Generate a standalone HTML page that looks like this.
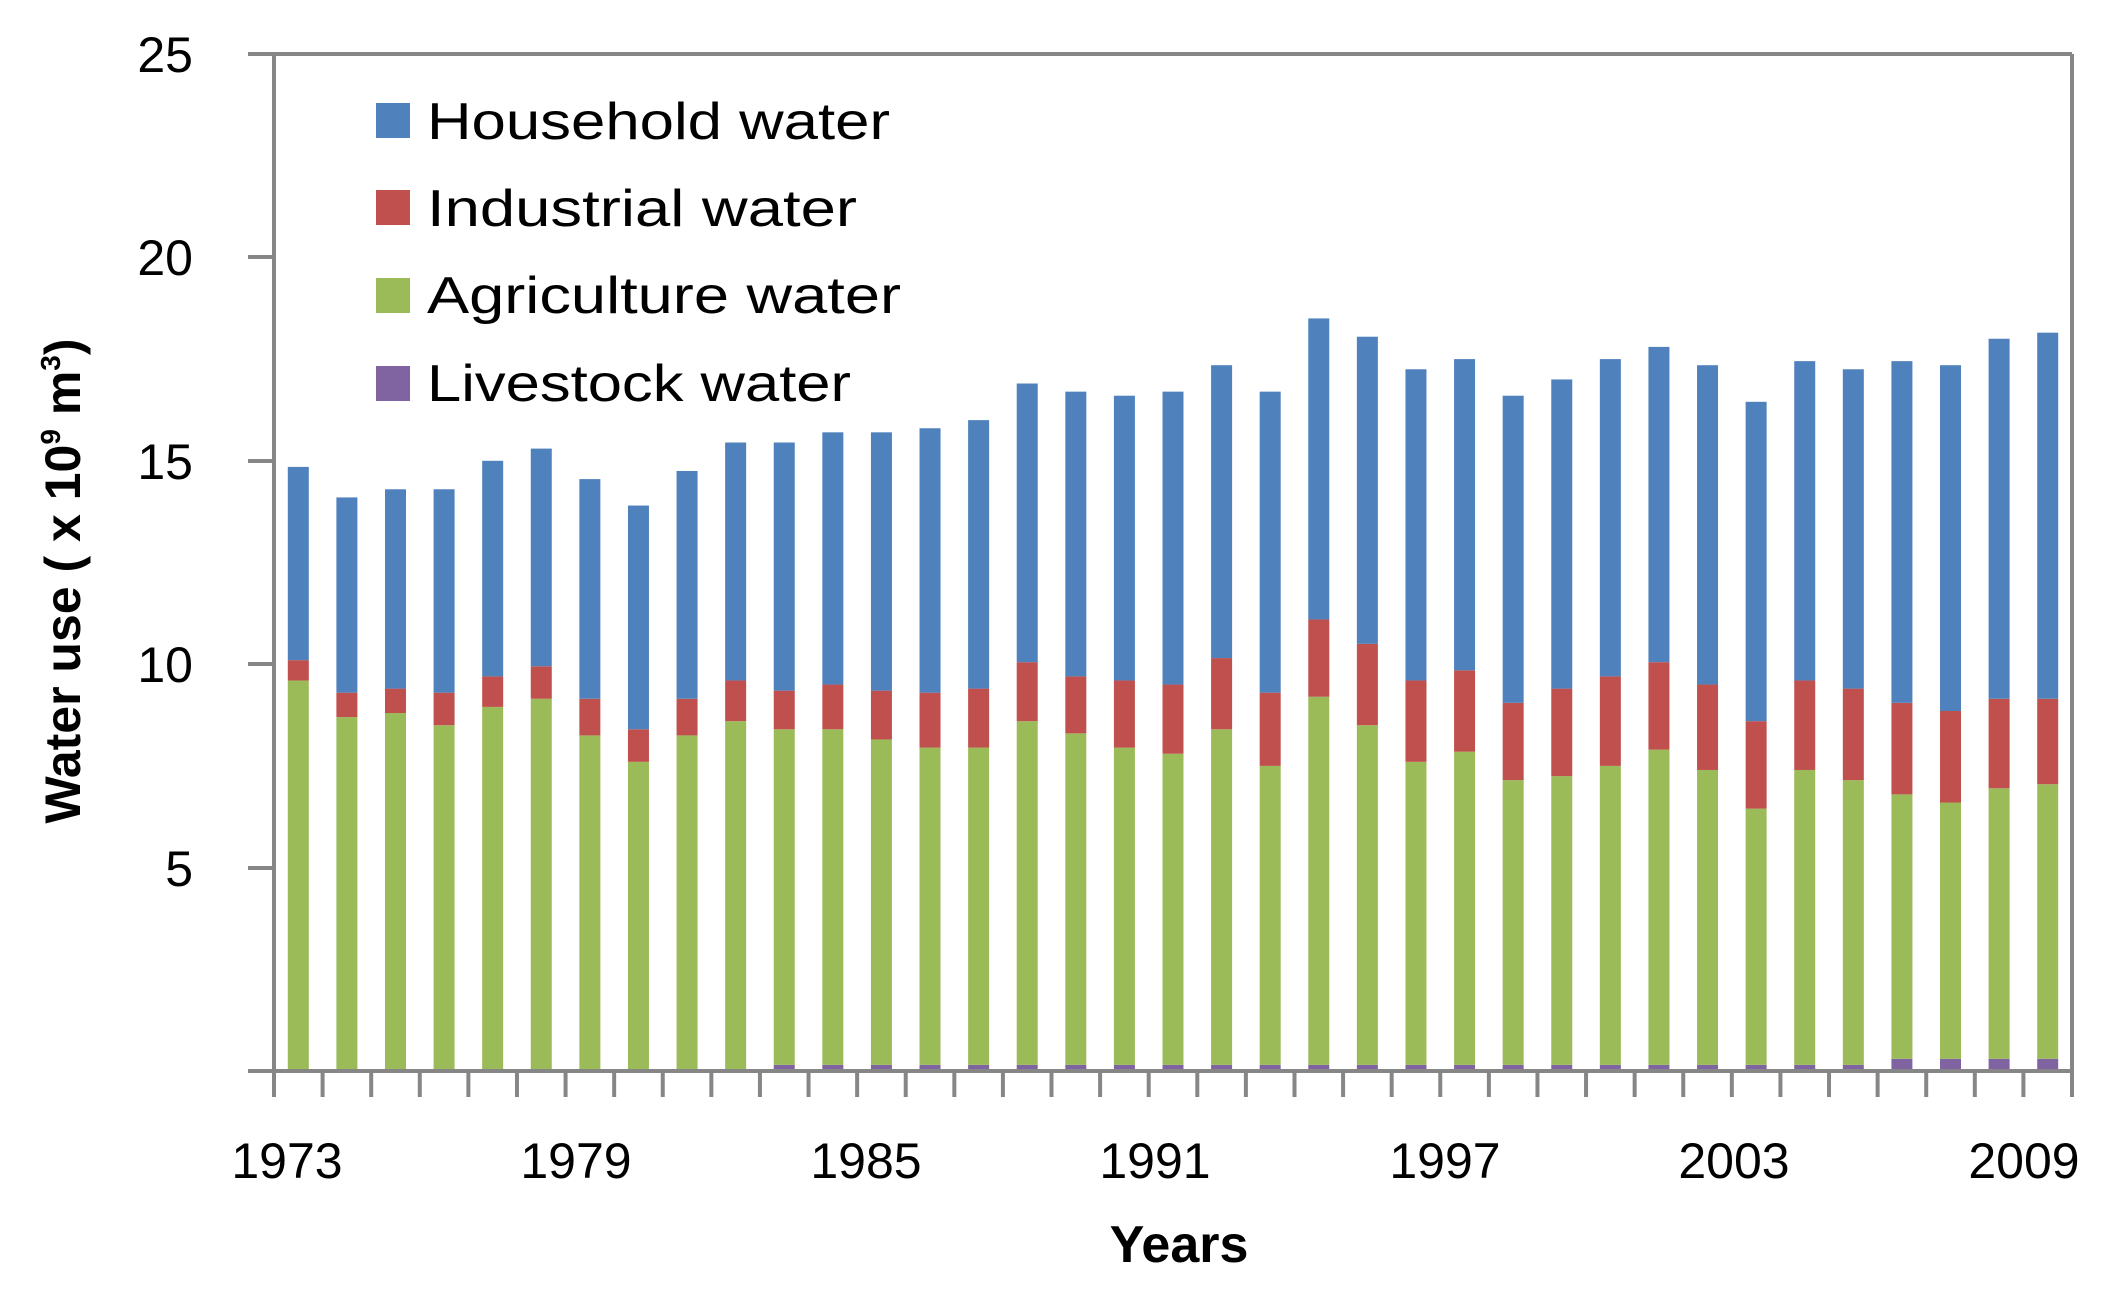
<!DOCTYPE html>
<html><head><meta charset="utf-8"><style>body{margin:0;background:#fff}svg{display:block}</style></head>
<body>
<svg id="s" width="2120" height="1289" viewBox="0 0 2120 1289" xmlns="http://www.w3.org/2000/svg" font-family="'Liberation Sans', sans-serif">
<g id="bars"></g>
<g stroke="#868686" stroke-width="4" fill="none">
<line x1="274" y1="54" x2="2072" y2="54"/>
<line x1="274" y1="54" x2="274" y2="1071"/>
<line x1="2072" y1="54" x2="2072" y2="1071"/>
<line x1="248" y1="1071" x2="2072" y2="1071"/>
<line x1="248" y1="54" x2="274" y2="54"/>
<line x1="248" y1="257" x2="274" y2="257"/>
<line x1="248" y1="461" x2="274" y2="461"/>
<line x1="248" y1="664" x2="274" y2="664"/>
<line x1="248" y1="868" x2="274" y2="868"/>
<g id="ticks"></g>
</g>
<g font-size="50" fill="#000" text-anchor="end">
<text x="193" y="72">25</text>
<text x="193" y="275">20</text>
<text x="193" y="479">15</text>
<text x="193" y="682">10</text>
<text x="193" y="886">5</text>
</g>
<g font-size="50" fill="#000" text-anchor="middle">
<text x="287" y="1178">1973</text>
<text x="576" y="1178">1979</text>
<text x="866" y="1178">1985</text>
<text x="1155" y="1178">1991</text>
<text x="1445" y="1178">1997</text>
<text x="1734" y="1178">2003</text>
<text x="2024" y="1178">2009</text>
</g>
<text x="1179" y="1262" font-size="52" font-weight="bold" text-anchor="middle">Years</text>
<text transform="translate(80,581) rotate(-90)" font-size="50" font-weight="bold" text-anchor="middle">Water use ( x 10<tspan font-size="28" dy="-20">9</tspan><tspan dy="20"> m</tspan><tspan font-size="28" dy="-20">3</tspan><tspan dy="20">)</tspan></text>
<rect x="376" y="103" width="34" height="35" fill="#4f81bd"/>
<rect x="376" y="190" width="34" height="35" fill="#c0504d"/>
<rect x="376" y="278" width="34" height="35" fill="#9bbb59"/>
<rect x="376" y="366" width="34" height="35" fill="#8064a2"/>
<g font-size="52" fill="#000">
<text x="427" y="139" textLength="463" lengthAdjust="spacingAndGlyphs">Household water</text>
<text x="427" y="226" textLength="430" lengthAdjust="spacingAndGlyphs">Industrial water</text>
<text x="427" y="313" textLength="474" lengthAdjust="spacingAndGlyphs">Agriculture water</text>
<text x="427" y="401" textLength="424" lengthAdjust="spacingAndGlyphs">Livestock water</text>
</g>
</svg>
<script>
var d=[[14.85,10.1,9.6],[14.1,9.3,8.7],[14.3,9.4,8.8],[14.3,9.3,8.5],[15.0,9.7,8.95],[15.3,9.95,9.15],[14.55,9.15,8.25],[13.9,8.4,7.6],[14.75,9.15,8.25],[15.45,9.6,8.6],[15.45,9.35,8.4],[15.7,9.5,8.4],[15.7,9.35,8.15],[15.8,9.3,7.95],[16.0,9.4,7.95],[16.9,10.05,8.6],[16.7,9.7,8.3],[16.6,9.6,7.95],[16.7,9.5,7.8],[17.35,10.15,8.4],[16.7,9.3,7.5],[18.5,11.1,9.2],[18.05,10.5,8.5],[17.25,9.6,7.6],[17.5,9.85,7.85],[16.6,9.05,7.15],[17.0,9.4,7.25],[17.5,9.7,7.5],[17.8,10.05,7.9],[17.35,9.5,7.4],[16.45,8.6,6.45],[17.45,9.6,7.4],[17.25,9.4,7.15],[17.45,9.05,6.8],[17.35,8.85,6.6],[18.0,9.15,6.95],[18.15,9.15,7.05]];
var L=274,R=2072,B=1071,u=40.68,step=(R-L)/37,w=21,ns="http://www.w3.org/2000/svg";
var g=document.getElementById('bars'),t=document.getElementById('ticks');
function r(x,y0,y1,c){var e=document.createElementNS(ns,'rect');e.setAttribute('x',x);e.setAttribute('y',B-y1*u);e.setAttribute('width',w);e.setAttribute('height',(y1-y0)*u);e.setAttribute('fill',c);g.appendChild(e);}
for(var i=0;i<37;i++){var x=L+step*(i+0.5)-w/2,v=d[i];var lv=i<10?0.04:(i<33?0.15:0.3);
r(x,0,lv,'#8064a2');r(x,lv,v[2],'#9bbb59');r(x,v[2],v[1],'#c0504d');r(x,v[1],v[0],'#4f81bd');
var l=document.createElementNS(ns,'line');var tx=L+step*(i+1);l.setAttribute('x1',tx);l.setAttribute('x2',tx);l.setAttribute('y1',1071);l.setAttribute('y2',1097);t.appendChild(l);}
var l0=document.createElementNS(ns,'line');l0.setAttribute('x1',L);l0.setAttribute('x2',L);l0.setAttribute('y1',1071);l0.setAttribute('y2',1097);t.appendChild(l0);
</script>
</body></html>
